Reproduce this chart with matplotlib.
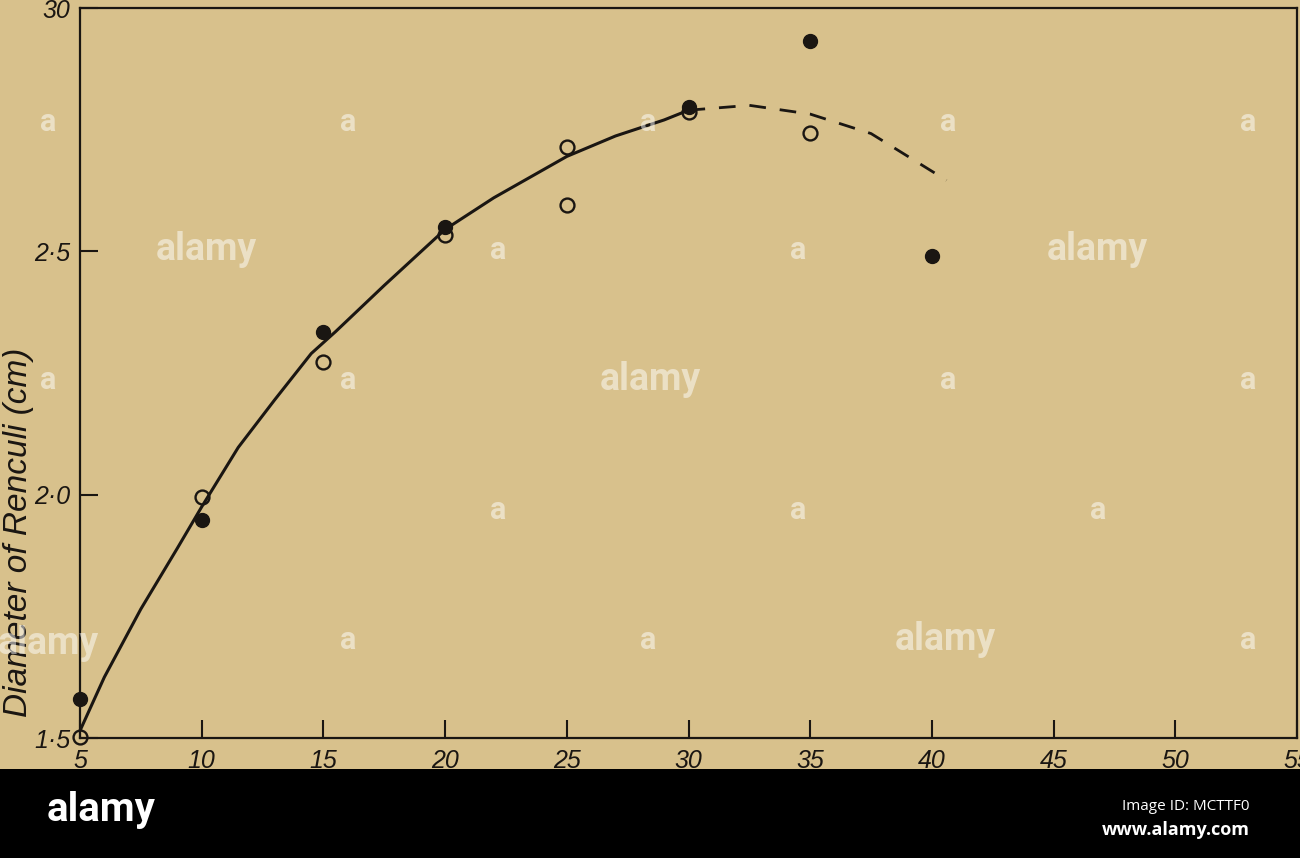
import matplotlib.pyplot as plt
from matplotlib.patches import Rectangle

# readings
filled_x = [5, 10, 15, 20, 30, 35, 40]
filled_y = [1.58, 1.948, 2.334, 2.55, 2.797, 2.932, 2.49]
open_x = [5, 10, 15, 20, 25, 25, 30, 35]
open_y = [1.502, 1.995, 2.273, 2.534, 2.714, 2.595, 2.786, 2.743]

# hand-drawn fitted curve, traced
curve_x = [5, 6, 7.5, 9, 10, 11.5, 13, 14.5, 15.5, 17.5, 20, 22, 25, 27, 29, 30]
curve_y = [1.515, 1.625, 1.765, 1.89, 1.975, 2.097, 2.195, 2.29, 2.335, 2.43,
           2.545, 2.61, 2.695, 2.737, 2.77, 2.79]
dash_x = [30, 32.5, 35, 37.5, 40.6]
dash_y = [2.79, 2.80, 2.782, 2.742, 2.646]

xticks = [5, 10, 15, 20, 25, 30, 35, 40, 45, 50, 55]
yticks = [1.5, 2.0, 2.5, 3.0]
ytick_labels = ['1·5', '2·0', '2·5', '30']

bg = '#d8c18c'
ink = '#1a1612'
W, H = 1300, 858

fig = plt.figure(figsize=(13, 8.58), dpi=100, facecolor=bg)
ax = fig.add_axes([80 / W, (H - 738) / H, (1297 - 80) / W, 730 / H])
ax.set_facecolor(bg)

ax.plot(curve_x, curve_y, color=ink, lw=2.2, solid_capstyle='round', solid_joinstyle='round')
ax.plot(dash_x, dash_y, color=ink, lw=2.0, dashes=(6, 5))
ax.plot(filled_x, filled_y, 'o', ms=10, color=ink, clip_on=False, zorder=5)
ax.plot(open_x, open_y, 'o', ms=10, mfc='none', mec=ink, mew=1.7, clip_on=False, zorder=5)

ax.set_xlim(5, 55)
ax.set_ylim(1.5, 3.0)
for s in ax.spines.values():
    s.set_color(ink)
    s.set_linewidth(1.6)

ax.set_xticks(xticks)
ax.set_xticklabels([str(t) for t in xticks])
ax.set_yticks(yticks)
ax.set_yticklabels(ytick_labels)
for t in ax.get_xticklabels() + ax.get_yticklabels():
    t.set_fontfamily(['Liberation Sans', 'DejaVu Sans'])
    t.set_fontstyle('italic')
    t.set_fontsize(18)
    t.set_color(ink)
ax.tick_params(axis='x', direction='in', length=13, width=1.5, pad=8, color=ink)
ax.tick_params(axis='y', direction='in', length=13, width=1.5, pad=7, color=ink)

fig.text(19 / W, 1 - 532 / H, 'Diameter of Renculi (cm)', rotation=90,
         ha='center', va='center', fontsize=24, style='italic',
         family=['Liberation Sans', 'DejaVu Sans'], color=ink)

# stock-photo watermark
wm = dict(color='white', alpha=0.5, ha='center', va='center', fontweight='bold',
          family=['Roboto', 'DejaVu Sans'])
for x, y in [(206, 250), (1097, 250), (650, 380), (48, 643), (945, 640)]:
    fig.text(x / W, 1 - y / H, 'alamy', fontsize=27, **wm)
small_a = [(48, 122), (348, 122), (648, 122), (948, 122), (1248, 122),
           (498, 250), (798, 250),
           (48, 380), (348, 380), (948, 380), (1248, 380),
           (498, 510), (798, 510), (1098, 510),
           (348, 640), (648, 640), (1248, 640)]
for x, y in small_a:
    fig.text(x / W, 1 - y / H, 'a', fontsize=22, **wm)

# black banner at the bottom
fig.patches.append(Rectangle((0, 0), 1, (H - 769) / H, transform=fig.transFigure,
                             facecolor='black', edgecolor='none', zorder=10))
fig.text(101 / W, 1 - 810 / H, 'alamy', color='white', fontsize=29, fontweight='bold',
         ha='center', va='center', family=['Roboto', 'DejaVu Sans'], zorder=11)
fig.text(1250 / W, 1 - 806 / H, 'Image ID: MCTTF0', color='white', fontsize=11,
         ha='right', va='center', family=['Open Sans', 'DejaVu Sans'], zorder=11)
fig.text(1250 / W, 1 - 830 / H, 'www.alamy.com', color='white', fontsize=13, fontweight='bold',
         ha='right', va='center', family=['Open Sans', 'DejaVu Sans'], zorder=11)

fig.savefig('out.png', dpi=100, facecolor=bg)
